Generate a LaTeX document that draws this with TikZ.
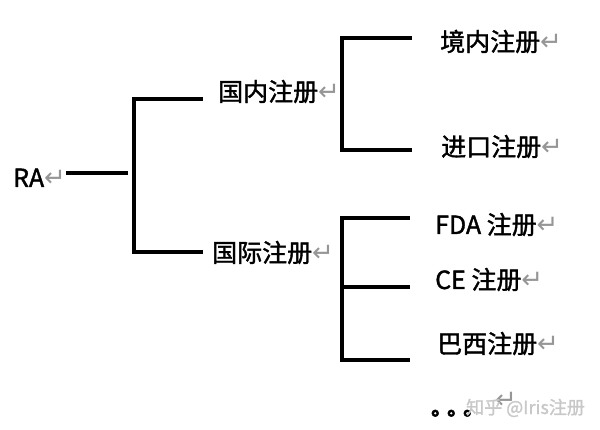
\documentclass[tikz,border=0pt]{standalone}
\usepackage{fontspec}
\usepackage{xcolor}
\usetikzlibrary{positioning}
\newfontfamily\cjkfont[FakeBold=1.5]{Noto Sans CJK SC}
\newfontfamily\symfont{DejaVu Sans}
\definecolor{retgray}{RGB}{150,150,150}
\definecolor{markgray}{RGB}{200,200,200}
\newcommand{\retmark}{{\symfont\fontsize{26}{26}\selectfont\color{retgray}↵}}

\begin{document}
\begin{tikzpicture}[
x=1pt, y=-1pt,
every node/.style={inner sep=0pt, anchor=base west, font=\cjkfont\fontsize{25}{25}\selectfont},
branch/.style={line width=4pt}
]
\useasboundingbox (0,0) rectangle (600,430);

% spines of the brackets
\coordinate (sp1) at (134,0);
\coordinate (sp2) at (342,0);

% entries
\node (ra) at (13,187) {RA\retmark};
\node (dom) at (218,101) {国内注册\retmark};
\node (intl) at (212,262) {国际注册\retmark};
\node (jn) at (440,51) {境内注册\retmark};
\node (jk) at (441,156) {进口注册\retmark};
\node (fda) at (435,234) {FDA 注册\retmark};
\node (ce) at (435,289) {CE 注册\retmark};
\node (bx) at (437,353) {巴西注册\retmark};
\node (more) at (431,415) {{\fontsize{21}{21}\bfseries\selectfont 。\hspace{-5pt}。\hspace{-5pt}。}\hspace{11pt}\raisebox{7pt}{\retmark}};

% line ends
\coordinate (ra-out) at (128,173);
\coordinate (dom-in) at (203,99);
\coordinate (intl-in) at (203,252);
\coordinate (jn-in) at (412,38);
\coordinate (jk-in) at (412,150);
\coordinate (fda-in) at (410,218);
\coordinate (ce-in) at (410,287);
\coordinate (bx-in) at (410,360);

\draw[branch] (ra.east |- ra-out) -- (ra-out);
\draw[branch] (dom-in) -- (dom-in -| sp1) -- (intl-in -| sp1) -- (intl-in);
\draw[branch] (jn-in) -- (jn-in -| sp2) -- (jk-in -| sp2) -- (jk-in);
\draw[branch] (fda-in) -- (fda-in -| sp2) -- (bx-in -| sp2) -- (bx-in);
\draw[branch] (ce-in -| sp2) -- (ce-in);

% watermark
\node[text=markgray, font=\cjkfont\fontsize{18}{18}\selectfont] (wm) at (466,414) {知乎 @Iris注册};

\end{tikzpicture}
\end{document}
